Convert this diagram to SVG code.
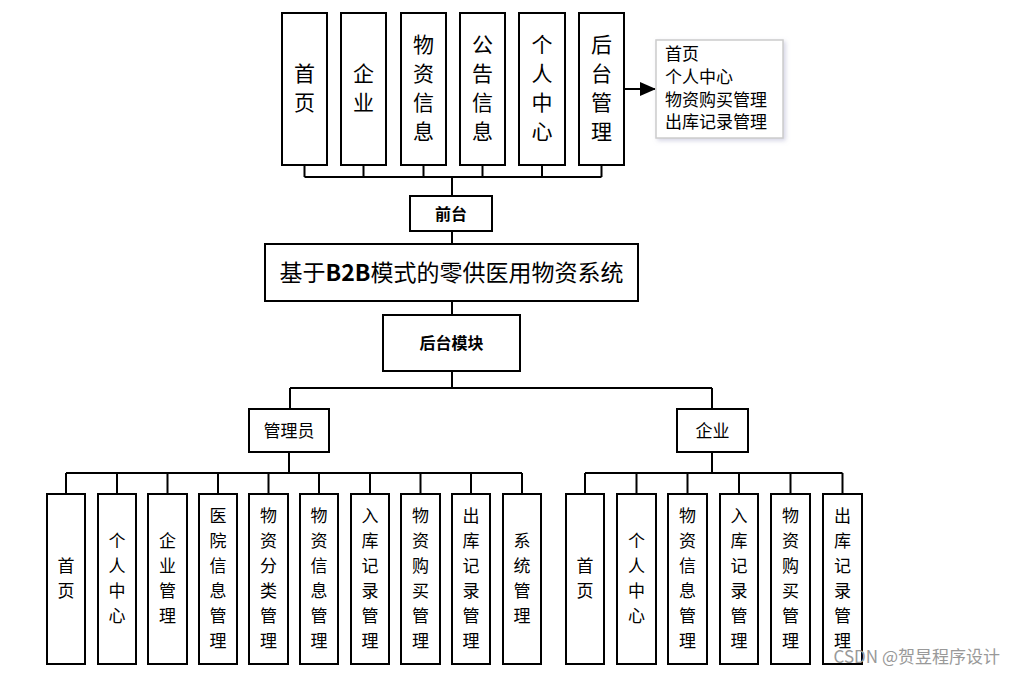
<svg xmlns="http://www.w3.org/2000/svg" width="1015" height="676" viewBox="0 0 1015 676">
<style>
.b{fill:#fff;stroke:#000;stroke-width:2}
text{font-family:"Noto Sans CJK SC","Liberation Sans",sans-serif;fill:#000;text-anchor:middle}
.t{font-size:21px}
.s{font-size:17px}
.l{fill:none;stroke:#000;stroke-width:2}
</style>
<defs><marker id="a" markerWidth="16" markerHeight="16" refX="15" refY="8" orient="auto" markerUnits="userSpaceOnUse"><path d="M0,1L16,8L0,15z"/></marker>
<filter id="sh"><feDropShadow dx="2" dy="2" stdDeviation="2" flood-color="#aac" flood-opacity="0.5"/></filter></defs>
<g id="connectors" class="l">
<path d="M304.5,165V177M363.5,165V177M423.5,165V177M482.5,165V177M542,165V177M601.5,165V177M304.5,177H601.5M452,177V196M452,231V244M452,301V315M452,371V388M290,388H712M290,388V409M712,388V409"/>
<path d="M289,452V473M66,473H522M66,473V494M117,473V494M167.5,473V494M218,473V494M268.5,473V494M319,473V494M370,473V494M420.5,473V494M471,473V494M522,473V494"/>
<path d="M712,452V473M585,473H842.5M585,473V494M636.5,473V494M687.5,473V494M739,473V494M790.5,473V494M842.5,473V494"/>
<path d="M624,89H655" marker-end="url(#a)"/>
</g>
<g id="top" class="t">
<g id="n1"><rect class="b" x="282" y="13" width="45" height="152"/><text x="304.5"><tspan x="304.5" y="81">首</tspan><tspan x="304.5" y="110">页</tspan></text></g>
<g id="n2"><rect class="b" x="341" y="13" width="45" height="152"/><text x="363.5"><tspan x="363.5" y="81">企</tspan><tspan x="363.5" y="110">业</tspan></text></g>
<g id="n3"><rect class="b" x="401" y="13" width="45" height="152"/><text><tspan x="423.5" y="52">物</tspan><tspan x="423.5" y="81">资</tspan><tspan x="423.5" y="110">信</tspan><tspan x="423.5" y="139">息</tspan></text></g>
<g id="n4"><rect class="b" x="460" y="13" width="45" height="152"/><text><tspan x="482.5" y="52">公</tspan><tspan x="482.5" y="81">告</tspan><tspan x="482.5" y="110">信</tspan><tspan x="482.5" y="139">息</tspan></text></g>
<g id="n5"><rect class="b" x="519" y="13" width="46" height="152"/><text><tspan x="542" y="52">个</tspan><tspan x="542" y="81">人</tspan><tspan x="542" y="110">中</tspan><tspan x="542" y="139">心</tspan></text></g>
<g id="n6"><rect class="b" x="579" y="13" width="45" height="152"/><text><tspan x="601.5" y="52">后</tspan><tspan x="601.5" y="81">台</tspan><tspan x="601.5" y="110">管</tspan><tspan x="601.5" y="139">理</tspan></text></g>
</g>
<g id="callout"><rect x="656" y="40" width="127" height="98" fill="#fff" stroke="#ccc" stroke-width="1.5" filter="url(#sh)"/>
<text style="font-size:17px;text-anchor:start"><tspan x="665" y="60">首页</tspan><tspan x="665" y="83">个人中心</tspan><tspan x="665" y="106">物资购买管理</tspan><tspan x="665" y="128">出库记录管理</tspan></text></g>
<g id="qiantai"><rect class="b" x="410" y="196" width="82" height="35"/><text x="451" y="220" style="font-size:16px;font-weight:bold">前台</text></g>
<g id="main"><rect class="b" x="265" y="244" width="373" height="57"/><text x="451.5" y="281" style="font-size:23px">基于<tspan font-weight="bold">B2B</tspan>模式的零供医用物资系统</text></g>
<g id="houtai"><rect class="b" x="383" y="315" width="137" height="56"/><text x="451.5" y="349" style="font-size:16px;font-weight:bold">后台模块</text></g>
<g id="admin"><rect class="b" x="249" y="409" width="80" height="43"/><text x="289" y="437" style="font-size:17px">管理员</text></g>
<g id="qiye"><rect class="b" x="677" y="409" width="71" height="43"/><text x="712.5" y="437" style="font-size:17px">企业</text></g>
<g id="bottom" class="s">
<g id="b1"><rect class="b" x="47" y="494" width="38" height="170"/><text><tspan x="66" y="572">首</tspan><tspan x="66" y="597">页</tspan></text></g>
<g id="b2"><rect class="b" x="98" y="494" width="38" height="170"/><text><tspan x="117" y="547">个</tspan><tspan x="117" y="572">人</tspan><tspan x="117" y="597">中</tspan><tspan x="117" y="622">心</tspan></text></g>
<g id="b3"><rect class="b" x="148" y="494" width="39" height="170"/><text><tspan x="167.5" y="547">企</tspan><tspan x="167.5" y="572">业</tspan><tspan x="167.5" y="597">管</tspan><tspan x="167.5" y="622">理</tspan></text></g>
<g id="b4"><rect class="b" x="199" y="494" width="38" height="170"/><text><tspan x="218" y="522">医</tspan><tspan x="218" y="547">院</tspan><tspan x="218" y="572">信</tspan><tspan x="218" y="597">息</tspan><tspan x="218" y="622">管</tspan><tspan x="218" y="647">理</tspan></text></g>
<g id="b5"><rect class="b" x="249" y="494" width="39" height="170"/><text><tspan x="268.5" y="522">物</tspan><tspan x="268.5" y="547">资</tspan><tspan x="268.5" y="572">分</tspan><tspan x="268.5" y="597">类</tspan><tspan x="268.5" y="622">管</tspan><tspan x="268.5" y="647">理</tspan></text></g>
<g id="b6"><rect class="b" x="300" y="494" width="38" height="170"/><text><tspan x="319" y="522">物</tspan><tspan x="319" y="547">资</tspan><tspan x="319" y="572">信</tspan><tspan x="319" y="597">息</tspan><tspan x="319" y="622">管</tspan><tspan x="319" y="647">理</tspan></text></g>
<g id="b7"><rect class="b" x="351" y="494" width="38" height="170"/><text><tspan x="370" y="522">入</tspan><tspan x="370" y="547">库</tspan><tspan x="370" y="572">记</tspan><tspan x="370" y="597">录</tspan><tspan x="370" y="622">管</tspan><tspan x="370" y="647">理</tspan></text></g>
<g id="b8"><rect class="b" x="401" y="494" width="39" height="170"/><text><tspan x="420.5" y="522">物</tspan><tspan x="420.5" y="547">资</tspan><tspan x="420.5" y="572">购</tspan><tspan x="420.5" y="597">买</tspan><tspan x="420.5" y="622">管</tspan><tspan x="420.5" y="647">理</tspan></text></g>
<g id="b9"><rect class="b" x="452" y="494" width="38" height="170"/><text><tspan x="471" y="522">出</tspan><tspan x="471" y="547">库</tspan><tspan x="471" y="572">记</tspan><tspan x="471" y="597">录</tspan><tspan x="471" y="622">管</tspan><tspan x="471" y="647">理</tspan></text></g>
<g id="b10"><rect class="b" x="503" y="494" width="38" height="170"/><text><tspan x="522" y="547">系</tspan><tspan x="522" y="572">统</tspan><tspan x="522" y="597">管</tspan><tspan x="522" y="622">理</tspan></text></g>
<g id="c1"><rect class="b" x="566" y="494" width="38" height="170"/><text><tspan x="585" y="572">首</tspan><tspan x="585" y="597">页</tspan></text></g>
<g id="c2"><rect class="b" x="617" y="494" width="39" height="170"/><text><tspan x="636.5" y="547">个</tspan><tspan x="636.5" y="572">人</tspan><tspan x="636.5" y="597">中</tspan><tspan x="636.5" y="622">心</tspan></text></g>
<g id="c3"><rect class="b" x="668" y="494" width="39" height="170"/><text><tspan x="687.5" y="522">物</tspan><tspan x="687.5" y="547">资</tspan><tspan x="687.5" y="572">信</tspan><tspan x="687.5" y="597">息</tspan><tspan x="687.5" y="622">管</tspan><tspan x="687.5" y="647">理</tspan></text></g>
<g id="c4"><rect class="b" x="720" y="494" width="38" height="170"/><text><tspan x="739" y="522">入</tspan><tspan x="739" y="547">库</tspan><tspan x="739" y="572">记</tspan><tspan x="739" y="597">录</tspan><tspan x="739" y="622">管</tspan><tspan x="739" y="647">理</tspan></text></g>
<g id="c5"><rect class="b" x="771" y="494" width="39" height="170"/><text><tspan x="790.5" y="522">物</tspan><tspan x="790.5" y="547">资</tspan><tspan x="790.5" y="572">购</tspan><tspan x="790.5" y="597">买</tspan><tspan x="790.5" y="622">管</tspan><tspan x="790.5" y="647">理</tspan></text></g>
<g id="c6"><rect class="b" x="823" y="494" width="39" height="170"/><text><tspan x="842.5" y="522">出</tspan><tspan x="842.5" y="547">库</tspan><tspan x="842.5" y="572">记</tspan><tspan x="842.5" y="597">录</tspan><tspan x="842.5" y="622">管</tspan><tspan x="842.5" y="647">理</tspan></text></g>
</g>
<text x="1000" y="663" style="font-size:17px;fill:#999;text-anchor:end">CSDN @贺昱程序设计</text>
</svg>
